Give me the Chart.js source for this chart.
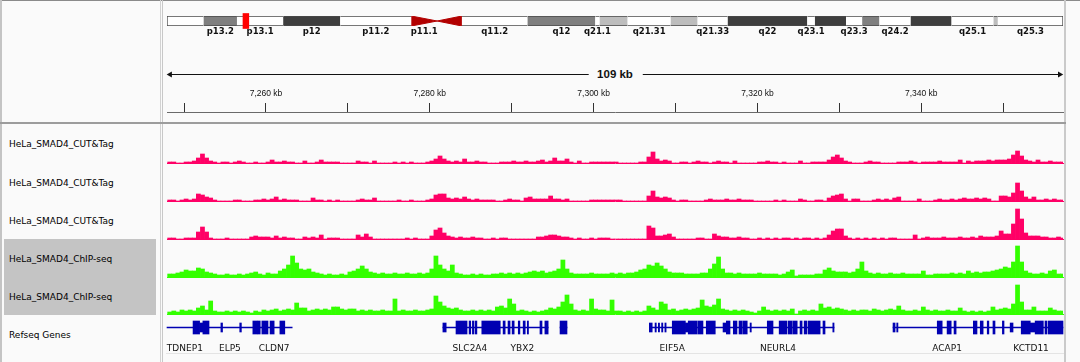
<!DOCTYPE html>
<html><head><meta charset="utf-8"><title>IGV view chr17 SMAD4</title>
<script src="https://cdn.jsdelivr.net/npm/chart.js@4.4.1/dist/chart.umd.min.js"></script>
<style>
html,body{margin:0;padding:0;background:#fafafa;}
body{width:1080px;height:362px;position:relative;overflow:hidden;font-family:'DejaVu Sans',sans-serif;}
.abs{position:absolute;}
canvas.cv{position:absolute;left:150px;}
.name{position:absolute;left:9px;font-size:9px;line-height:12px;height:12px;color:#000;white-space:nowrap;}
</style></head><body>
<div class="abs" style="left:0;top:0;width:1080px;height:1px;background:#8a8a8a"></div>
<div class="abs" style="left:0;top:0;width:2px;height:362px;background:#c4c4c4"></div>
<div class="abs" style="left:160px;top:0;width:1px;height:362px;background:#d2d2d2"></div>
<div class="abs" style="left:162px;top:0;width:1px;height:362px;background:#c8c8c8"></div>
<div class="abs" style="left:1064px;top:0;width:2px;height:362px;background:#cacaca"></div>
<div class="abs" style="left:0;top:122px;width:1066px;height:2px;background:#9c9c9c"></div>
<div class="abs" style="left:4px;top:239px;width:152px;height:76px;background:#c4c4c4"></div>
<div class="abs" style="left:166px;top:353px;width:898px;height:1px;background:#e4e4e4"></div>
<div id="names"></div>
<div class="abs" id="spanLabel" style="left:565px;top:67px;width:100px;text-align:center;font:bold 11.5px 'Liberation Sans',Arial,sans-serif;line-height:14px;color:#111"></div>
<canvas id="ideo" class="cv" width="930" height="36" style="top:6px"></canvas>
<canvas id="span" class="cv" width="930" height="17" style="top:66px"></canvas>
<canvas id="ruler" class="cv" width="930" height="40" style="top:80px"></canvas>
<canvas id="t0" class="cv" width="930" height="42" style="top:123px"></canvas>
<canvas id="t1" class="cv" width="930" height="42" style="top:161px"></canvas>
<canvas id="t2" class="cv" width="930" height="42" style="top:199px"></canvas>
<canvas id="t3" class="cv" width="930" height="42" style="top:237px"></canvas>
<canvas id="t4" class="cv" width="930" height="42" style="top:274px"></canvas>
<canvas id="genes" class="cv" width="930" height="50" style="top:312px"></canvas>
<script>
// ---------------- data ----------------
// chromosome 17 cytobands (Mb)
const chromBandNames  = ['p13.3','p13.2','p13.1','p12','p11.2','p11.1','q11.1','q11.2','q12','q21.1','q21.2','q21.31','q21.32','q21.33','q22','q23.1','q23.2','q23.3','q24.1','q24.2','q24.3','q25.1','q25.2','q25.3'];
const chromBandStartMb = [0,3.4,6.5,10.8,16.1,22.7,25.1,27.4,33.5,39.8,40.2,42.8,46.8,49.3,52.1,59.5,60.2,63.1,64.6,66.2,69.1,72.9,76.8,77.2];
const chromBandEndMb   = [3.4,6.5,10.8,16.1,22.7,25.1,27.4,33.5,39.8,40.2,42.8,46.8,49.3,52.1,59.5,60.2,63.1,64.6,66.2,69.1,72.9,76.8,77.2,83.257];
const chromBandStain   = ['gneg','gpos50','gneg','gpos75','gneg','acen','acen','gneg','gpos50','gneg','gpos25','gneg','gpos25','gneg','gpos75','gneg','gpos75','gneg','gpos50','gneg','gpos75','gneg','gpos25','gneg'];
const labeledBands = ['p13.2','p13.1','p12','p11.2','p11.1','q11.2','q12','q21.1','q21.31','q21.33','q22','q23.1','q23.3','q24.2','q25.1','q25.3'];
const chromLengthMb = 83.257;
const viewBoxMb = [7.06, 7.60];

// ruler (kb)
const viewStartKb = 7247.92, viewEndKb = 7357.3;
const rulerTickKb = [7250,7260,7270,7280,7290,7300,7310,7320,7330,7340,7350];
const rulerTickLabels = ['','7,260 kb','','7,280 kb','','7,300 kb','','7,320 kb','','7,340 kb',''];
const spanLabel = '109 kb';
const spanLineKb = [7248.3, 7299.4, 7306.0, 7356.9];

// signal tracks: 0.5 kb bins starting at 7248.0 kb
const binStartKb = 7248.0, binSizeKb = 0.5;
const trackNames = ['HeLa_SMAD4_CUT&Tag','HeLa_SMAD4_CUT&Tag','HeLa_SMAD4_CUT&Tag','HeLa_SMAD4_ChIP-seq','HeLa_SMAD4_ChIP-seq','Refseq Genes'];
const cutTag1 = [1,1,0,0,1,1,2,5,9,5, 2,1,0,1,1,0,1,2,1,0, 0,1,0,0,1,3,1,1,2,1, 1,0,0,2,0,0,1,3,1,1, 1,1,0,0,0,0,2,1,1,0, 2,0,0,0,0,1,0,1,0,1, 0,0,0,1,2,4,7,4,2,1, 2,1,4,1,1,2,1,1,0,0, 0,1,1,1,2,1,1,2,1,1, 2,3,1,2,5,2,2,4,1,0, 2,0,0,1,1,1,1,1,1,1, 0,0,0,0,0,1,1,6,11,4, 2,3,2,0,0,1,1,0,1,2, 1,1,0,1,2,1,1,0,2,0, 0,0,0,0,1,1,2,1,1,0, 1,0,0,0,2,0,0,1,1,1, 1,3,6,8,5,2,1,0,0,0, 1,2,1,1,0,0,0,0,1,1, 1,2,1,0,1,1,1,1,2,1, 1,1,1,3,0,2,1,2,2,2, 3,2,3,3,3,4,8,12,7,3, 2,1,3,1,1,2,1,1,1];
const cutTag2 = [1,1,0,1,2,1,2,7,6,4, 3,1,0,0,0,0,1,1,0,0, 0,1,1,2,1,2,4,1,2,1, 1,1,0,0,0,3,1,1,0,1, 0,1,0,0,0,0,1,2,1,1, 3,0,0,0,0,0,1,0,0,1, 0,0,0,1,2,6,7,7,3,2, 3,2,4,2,1,2,1,1,1,1, 0,0,1,2,1,1,0,3,4,2, 2,2,2,5,2,2,1,2,0,0, 0,0,0,1,1,1,1,1,1,1, 1,0,0,0,0,0,0,5,10,4, 3,4,3,1,0,1,1,0,0,0, 0,1,2,1,1,1,2,1,1,2, 1,1,1,0,0,0,0,0,1,0, 1,0,0,0,2,1,0,0,1,1, 0,3,5,6,7,2,0,2,2,0, 0,0,1,2,1,2,1,3,4,0, 0,0,0,2,0,0,0,1,2,1, 1,2,1,2,3,2,2,3,2,3, 2,0,0,5,5,4,8,18,10,4, 2,4,1,1,2,1,2,1,1];
const cutTag3 = [1,1,0,0,1,1,1,7,12,7, 1,0,0,0,1,0,0,0,0,0, 2,3,2,2,2,1,3,1,2,1, 1,0,0,2,1,2,1,4,0,1, 1,1,0,0,0,0,4,2,5,2, 0,0,0,0,0,0,0,0,1,0, 1,0,0,0,3,9,11,6,3,2, 1,2,1,1,2,1,1,0,0,1, 0,1,1,0,0,0,0,0,0,0, 2,2,3,4,4,3,2,2,1,0, 1,0,0,1,0,1,1,1,0,0, 0,0,0,0,0,0,0,13,11,3, 3,4,5,2,0,0,0,0,0,1, 1,0,0,5,3,2,2,1,1,2, 1,1,0,0,1,0,1,0,1,0, 1,1,0,1,0,1,1,0,1,0, 1,4,8,10,10,3,1,0,1,0, 1,0,1,0,1,0,1,1,0,0, 0,0,4,0,1,2,1,1,1,2, 1,1,1,2,1,1,2,1,3,2, 2,2,3,8,5,5,15,30,20,6, 3,3,3,2,2,1,1,2,1];
const chipSeq1 = [3,3,4,5,7,6,6,9,8,5, 4,3,2,2,3,2,2,3,2,3, 4,5,3,2,4,3,3,6,8,12, 21,14,8,7,8,5,4,3,2,3, 2,2,3,2,5,6,8,11,8,5, 4,3,4,3,3,4,3,3,4,3, 3,4,3,4,8,21,12,8,6,12, 4,3,2,2,3,2,3,2,2,3, 3,4,3,4,3,4,3,4,5,6, 5,6,4,5,6,8,17,8,4,3, 3,3,3,4,3,3,3,3,4,3, 4,3,4,4,5,7,8,12,11,14, 11,8,5,4,4,4,3,3,3,3, 4,4,8,13,20,8,4,4,3,4, 3,3,3,3,4,3,3,3,3,2, 3,5,7,1,2,2,2,2,3,3, 7,9,6,5,5,5,4,5,8,15, 6,4,3,4,3,3,4,3,3,4, 3,3,3,3,6,2,2,3,3,3, 3,4,3,4,3,6,4,5,4,5, 5,6,7,8,10,9,15,31,15,6, 4,3,3,4,3,6,7,3,3];
const chipSeq2 = [2,3,2,4,3,4,3,6,8,4, 13,3,2,2,3,2,3,2,3,2, 1,3,2,4,3,4,5,3,4,5, 4,11,6,6,3,4,5,4,5,4, 7,7,5,4,5,5,3,4,3,4, 3,3,4,3,3,15,3,4,3,3, 4,3,3,4,5,18,12,8,6,5, 6,4,3,3,4,3,4,3,4,3, 7,8,6,15,10,3,4,3,2,3, 2,3,4,6,5,7,12,19,10,4, 3,4,3,15,5,4,4,3,14,3, 3,2,3,2,3,2,3,8,6,4, 12,10,4,5,3,4,5,4,5,6, 14,8,7,9,15,5,4,3,4,3, 4,3,2,1,3,7,4,3,4,3, 4,3,5,0,3,4,3,4,3,10, 6,7,5,6,5,4,3,4,3,4, 4,3,5,4,3,4,5,4,8,4, 3,3,4,3,7,4,3,4,3,3, 4,3,3,6,3,2,3,2,3,2, 3,7,4,5,6,5,10,29,12,4, 4,7,3,3,3,6,4,3,3];
const trackSeries = [cutTag1, cutTag2, cutTag3, chipSeq1, chipSeq2];
const trackColors = ['#ff0066','#ff0066','#ff0066','#33ff00','#33ff00'];

// RefSeq genes (kb)
const geneNames   = ['TDNEP1','ELP5','CLDN7','SLC2A4','YBX2','EIF5A','NEURL4','ACAP1','KCTD11'];
const geneLabelKb = [7250.1, 7255.6, 7261.0, 7284.9, 7291.3, 7309.6, 7322.5, 7343.15, 7353.4];
const geneIntronKb = [[7247.92,7263.2],[7281.6,7294.45],[7295.9,7296.75],[7306.8,7329.35],[7336.55,7357.3]];
const geneUtrKb = [[7251.9,7252.3],[7254.5,7254.7],[7256.8,7257.0],[7281.6,7282.0],[7306.8,7307.15],[7307.5,7307.65],[7307.9,7308.05],[7308.3,7308.45],[7308.7,7308.85],[7311.2,7311.55],[7315.8,7316.2],[7319.1,7319.25],[7329.2,7329.35],[7336.55,7336.8],[7337.0,7337.15],[7350.85,7351.2],[7353.3,7353.9]];
const geneCdsKb = [[7251.1,7251.9],[7252.3,7253.05],[7258.4,7258.9],[7258.95,7259.3],[7259.5,7260.25],[7260.5,7261.0],[7261.7,7262.3],[7283.2,7284.55],[7284.8,7285.0],[7285.2,7285.4],[7285.55,7285.75],[7286.35,7288.6],[7288.95,7289.2],[7289.55,7289.8],[7290.05,7290.3],[7290.8,7291.0],[7291.4,7291.65],[7291.9,7292.05],[7293.45,7293.7],[7294.05,7294.45],[7295.9,7296.75],[7309.6,7311.2],[7311.55,7312.65],[7312.75,7313.35],[7313.75,7314.85],[7316.2,7316.65],[7317.05,7317.5],[7317.75,7318.15],[7318.25,7318.75],[7321.2,7321.9],[7322.65,7323.6],[7323.75,7324.25],[7324.35,7324.85],[7325.2,7325.45],[7325.7,7326.05],[7326.2,7327.65],[7328.0,7328.25],[7341.95,7342.55],[7343.15,7343.65],[7344.0,7344.25],[7346.35,7346.8],[7347.2,7347.55],[7348.05,7348.25],[7348.75,7349.0],[7349.9,7350.1],[7352.2,7353.3],[7353.9,7354.9],[7355.1,7355.35],[7355.5,7357.3]];

// ---------------- layout / style ----------------
const nameCenterY = [144,182.5,221,259,297,335];
const DJ = "'DejaVu Sans', sans-serif";
const LIB = "'Liberation Sans', Arial, sans-serif";
Chart.defaults.font.family = DJ;
const base = {responsive:false, maintainAspectRatio:false, animation:false, devicePixelRatio:1, events:[],
  plugins:{legend:{display:false}, tooltip:{enabled:false}}};

// names panel
const namesEl = document.getElementById('names');
trackNames.forEach((t,i)=>{
  const d = document.createElement('div');
  d.className = 'name'; d.textContent = t;
  d.style.top = (nameCenterY[i]-6)+'px';
  namesEl.appendChild(d);
});
document.getElementById('spanLabel').textContent = spanLabel;

// ideogram
const stainColor = {gneg:'#ffffff', gpos25:'#bdbdbd', gpos50:'#7f7f7f', gpos75:'#3e3e3e', acen:'rgba(0,0,0,0)'};
const nb = chromBandNames.length;
const pIdx = chromBandNames.indexOf('p11.1'), qIdx = chromBandNames.indexOf('q11.1');
new Chart(document.getElementById('ideo'), {
  type:'bar',
  data:{datasets:[
    {type:'bar', indexAxis:'y', grouped:false, barThickness:15, data:[{x:viewBoxMb, y:0.5}], backgroundColor:'#ff0000', borderWidth:0, clip:false},
    {type:'line', indexAxis:'x', data:[{x:chromBandStartMb[pIdx],y:1},{x:chromBandEndMb[pIdx],y:0.5},{x:chromBandStartMb[pIdx],y:0}],
      fill:'shape', backgroundColor:'#b20000', borderColor:'#b20000', borderWidth:1, pointRadius:0, tension:0},
    {type:'line', indexAxis:'x', data:[{x:chromBandEndMb[qIdx],y:1},{x:chromBandStartMb[qIdx],y:0.5},{x:chromBandEndMb[qIdx],y:0}],
      fill:'shape', backgroundColor:'#b20000', borderColor:'#b20000', borderWidth:1, pointRadius:0, tension:0},
    {type:'bar', indexAxis:'y', grouped:false, barThickness:10,
      data: chromBandNames.map((n,i)=>({x:[chromBandStartMb[i], chromBandEndMb[i]], y:0.5})),
      backgroundColor: chromBandStain.map(s=>stainColor[s]), borderColor:'#4a4a4a', borderSkipped:false,
      borderWidth: c => chromBandStain[c.dataIndex]==='acen' ? 0 : {top:1,bottom:1,left:c.dataIndex===0?1:0,right:c.dataIndex===nb-1?1:0}}
  ]},
  options:{...base, layout:{padding:{left:17,right:17,top:10,bottom:0}},
    scales:{
      x:{type:'linear', min:0, max:chromLengthMb, offset:false, grid:{display:false, drawTicks:false, tickLength:0}, border:{display:false},
        afterBuildTicks: a => { a.ticks = labeledBands.map(n => { const i = chromBandNames.indexOf(n); return {value:(chromBandStartMb[i]+chromBandEndMb[i])/2}; }); },
        afterFit: s => { s.height = 16; },
        ticks:{autoSkip:false, maxRotation:0, minRotation:0, padding:1, color:'#111', font:{size:8.5, weight:'bold', family:DJ}, callback:(v,i)=>labeledBands[i]}},
      y:{type:'linear', display:false, min:0, max:1, offset:false}
    }}
});

// span arrow line
new Chart(document.getElementById('span'), {
  type:'line',
  data:{datasets:[
    {data:[{x:spanLineKb[0],y:0.5},{x:spanLineKb[1],y:0.5}], borderColor:'#111', borderWidth:1, pointStyle:'triangle',
      pointRadius:[3.5,0], pointRotation:[270,0], pointBackgroundColor:'#111', pointBorderWidth:0, clip:false},
    {data:[{x:spanLineKb[2],y:0.5},{x:spanLineKb[3],y:0.5}], borderColor:'#111', borderWidth:1, pointStyle:'triangle',
      pointRadius:[0,3.5], pointRotation:[0,90], pointBackgroundColor:'#111', pointBorderWidth:0, clip:false}
  ]},
  options:{...base, layout:{padding:{left:17,right:17,top:0,bottom:0}},
    scales:{x:{type:'linear', display:false, min:viewStartKb, max:viewEndKb}, y:{type:'linear', display:false, min:0, max:1}}}
});

// ruler
new Chart(document.getElementById('ruler'), {
  type:'line',
  data:{datasets:[]},
  options:{...base, layout:{padding:{left:17,right:17,top:0,bottom:0}},
    scales:{
      x:{type:'linear', position:'top', min:viewStartKb, max:viewEndKb, offset:false,
        afterBuildTicks: a => { a.ticks = rulerTickKb.map(v=>({value:v})); },
        afterFit: s => { s.height = 32; },
        grid:{display:true, drawOnChartArea:false, drawTicks:true, tickLength:9, color:'#333', lineWidth:1},
        border:{display:true, color:'#6a6a6a', width:1},
        ticks:{autoSkip:false, maxRotation:0, minRotation:0, padding:4, color:'#111', font:{size:8.5, family:LIB}, callback:(v,i)=>rulerTickLabels[i]}},
      y:{type:'linear', display:false, min:0, max:1}
    }}
});

// signal tracks
const binCentersKb = trackSeries[0].map((_,i)=>binStartKb + binSizeKb*(i+0.5));
trackSeries.forEach((vals,k)=>{
  new Chart(document.getElementById('t'+k), {
    type:'bar',
    data:{labels: binCentersKb, datasets:[{data: vals, backgroundColor: trackColors[k], borderWidth:0, barPercentage:1, categoryPercentage:1}]},
    options:{...base, layout:{padding:{left:17,right:17,top:2,bottom:0}},
      scales:{
        x:{type:'linear', min:viewStartKb, max:viewEndKb, offset:false,
          ticks:{display:false}, grid:{display:true, drawOnChartArea:false, drawTicks:false, tickLength:0},
          border:{display:true, color:trackColors[k], width:1}, afterFit: s => { s.height = 2; }},
        y:{type:'linear', display:false, min:0, max:38}
      }}
  });
});

// genes
const toBars = arr => arr.map(p=>({x:[p[0],p[1]], y:0.5}));
new Chart(document.getElementById('genes'), {
  type:'bar',
  data:{datasets:[
    {indexAxis:'y', grouped:false, barThickness:13, data: toBars(geneCdsKb), backgroundColor:'#0000b2', borderWidth:0, clip:false},
    {indexAxis:'y', grouped:false, barThickness:9, data: toBars(geneUtrKb), backgroundColor:'#0000b2', borderWidth:0, clip:false},
    {indexAxis:'y', grouped:false, barThickness:1, data: toBars(geneIntronKb), backgroundColor:'#0000b2', borderWidth:0, clip:false}
  ]},
  options:{...base, indexAxis:'y', layout:{padding:{left:17,right:17,top:5,bottom:0}},
    scales:{
      x:{type:'linear', min:viewStartKb, max:viewEndKb, offset:false, grid:{display:false, drawTicks:false, tickLength:0}, border:{display:false},
        afterBuildTicks: a => { a.ticks = geneLabelKb.map(v=>({value:v})); },
        afterFit: s => { s.height = 24; },
        ticks:{autoSkip:false, maxRotation:0, minRotation:0, padding:5, color:'#111', font:{size:9, family:DJ}, callback:(v,i)=>geneNames[i]}},
      y:{type:'linear', display:false, min:0, max:1, offset:false}
    }}
});
</script>
</body></html>
